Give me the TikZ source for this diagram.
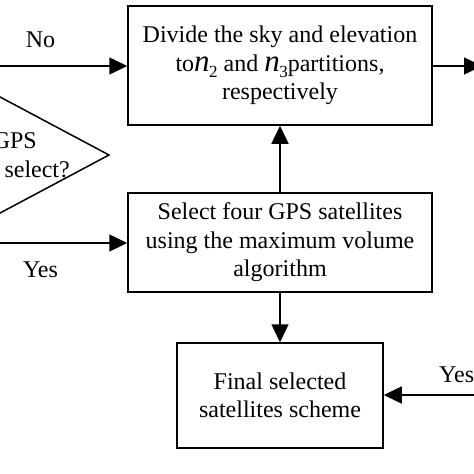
\documentclass[tikz,border=0pt]{standalone}
\usepackage{fontspec}
\setmainfont{Liberation Serif}
\usetikzlibrary{arrows.meta}
\newcommand\bign[1]{{\fontsize{31}{28}\selectfont\textit{n}}\kern-0.5pt\raisebox{-6pt}{\fontsize{17}{17}\selectfont #1}}
\tikzset{
  box/.style={draw, line width=1.5pt, inner sep=0pt, align=center, font=\fontsize{24}{28.5}\selectfont},
  lbl/.style={inner sep=0pt, font=\fontsize{24}{28.5}\selectfont},
  arr/.style={line width=1.5pt, -{Triangle[length=18pt,width=17pt]}},
}
\begin{document}
\begin{tikzpicture}[x=1pt,y=-1pt]
\useasboundingbox (0,0) rectangle (474,474);
\clip (0,0) rectangle (474,474);
\fill[white] (0,0) rectangle (474,474);
% boxes
\node[box, minimum width=304pt, minimum height=119pt] (div) at (280,65.5)
  {Divide the sky and elevation\\to\bign{2} and \bign{3}partitions,\\respectively};
\node[box, minimum width=304pt, minimum height=99pt] (sel) at (280,242.5)
  {Select four GPS satellites\\using the maximum volume\\algorithm};
\node[box, minimum width=206pt, minimum height=105pt] (fin) at (280,395.5)
  {Final selected\\satellites scheme};
% decision diamond (partly outside)
\draw[line width=1.5pt] (-45,73) -- (109,155) -- (-45,237);
\node[lbl, anchor=base east] (gps) at (37,148) {GPS};
\node[lbl, anchor=base east] (slq) at (70,177) {select?};
% free ends
\coordinate (nofrom) at (-10,66);
\coordinate (yesfrom) at (-10,243);
\coordinate (outR) at (482,66);
\coordinate (inR) at (490,395);
% connectors
\draw[arr] (nofrom) -- (div.west |- nofrom);
\draw[arr] (yesfrom) -- (sel.west |- yesfrom);
\draw[arr] (div.east |- outR) -- (outR);
\draw[arr] (sel.north) -- (div.south);
\draw[arr] (sel.south) -- (fin.north);
\draw[arr] (inR) -- (fin.east |- inR);
% labels
\node[lbl, anchor=base] (no) at (40.5,47) {No};
\node[lbl, anchor=base] (yes1) at (40.5,277) {Yes};
\node[lbl, anchor=base west] (yes2) at (439,382) {Yes};
\end{tikzpicture}
\end{document}
